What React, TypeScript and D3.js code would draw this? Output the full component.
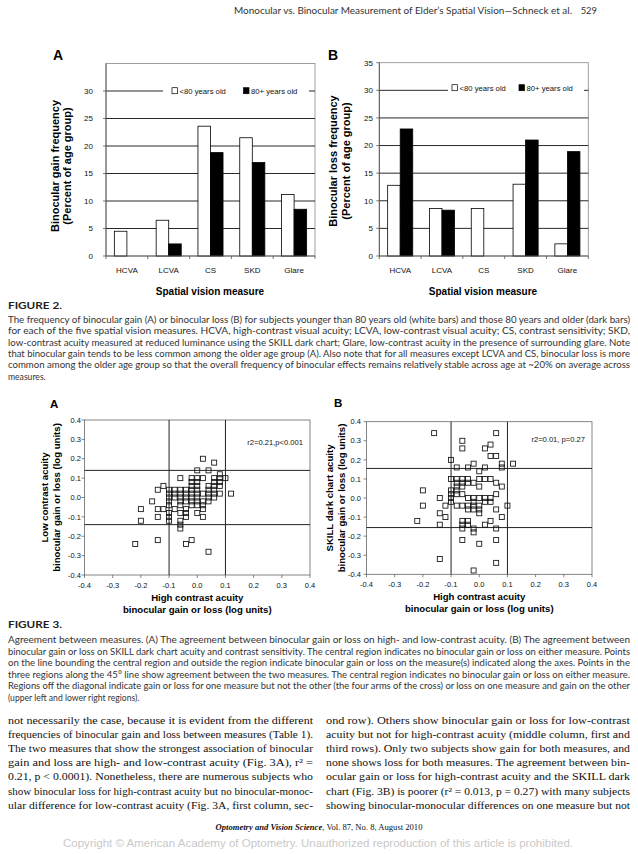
import React from "react";
import * as d3 from "d3";

// ---------- data ----------
const categories = ["HCVA", "LCVA", "CS", "SKD", "Glare"];
const ageGroups = ["<80 years old", "80+ years old"];
const gainUnder80 = [4.5, 6.5, 23.6, 21.5, 11.2];
const gainOver80 = [0, 2.2, 18.8, 17.0, 8.5];
const lossUnder80 = [12.8, 8.6, 8.6, 13.0, 2.2];
const lossOver80 = [23.0, 8.3, 0, 21.0, 18.9];
const gainTicks = [0, 5, 10, 15, 20, 25, 30];
const lossTicks = [0, 5, 10, 15, 20, 25, 30, 35];

const logTicks = [-0.4, -0.3, -0.2, -0.1, 0, 0.1, 0.2, 0.3, 0.4];
const crossAX = [-0.1, 0.1];
const crossAY = [-0.14, 0.14];
const crossBX = [-0.1, 0.1];
const crossBY = [-0.155, 0.155];

const hcVsLc: [number, number][] = [
  [0.02, 0.2], [0.06, 0.18], [0.0, 0.14], [0.04, 0.14], [0.08, 0.12],
  [-0.06, 0.1], [-0.02, 0.1], [0.0, 0.1], [0.02, 0.1], [0.06, 0.1], [0.08, 0.1], [0.1, 0.1],
  [-0.02, 0.08], [0.0, 0.08], [0.06, 0.08], [0.08, 0.08],
  [-0.12, 0.06], [-0.02, 0.06], [0.0, 0.06], [0.04, 0.06], [0.06, 0.06], [0.08, 0.06],
  [-0.14, 0.04], [-0.1, 0.04], [-0.08, 0.04], [-0.06, 0.04], [-0.04, 0.04], [-0.02, 0.04], [0.0, 0.04], [0.04, 0.04], [0.06, 0.04],
  [-0.1, 0.02], [-0.08, 0.02], [-0.06, 0.02], [-0.04, 0.02], [-0.02, 0.02], [0.0, 0.02], [0.02, 0.02], [0.04, 0.02], [0.06, 0.02], [0.08, 0.02], [0.12, 0.02],
  [-0.1, 0.0], [-0.08, 0.0], [-0.06, 0.0], [-0.04, 0.0], [-0.02, 0.0], [0.0, 0.0], [0.04, 0.0], [0.06, 0.0],
  [-0.16, -0.02], [-0.1, -0.02], [-0.06, -0.02], [-0.04, -0.02], [-0.02, -0.02], [0.0, -0.02], [0.02, -0.02], [0.04, -0.02],
  [-0.1, -0.04], [-0.06, -0.04], [-0.02, -0.04], [0.0, -0.04], [0.02, -0.04],
  [-0.2, -0.06], [-0.14, -0.06], [-0.12, -0.06], [-0.08, -0.06], [-0.04, -0.06], [0.02, -0.06],
  [-0.1, -0.08], [-0.06, -0.08], [-0.04, -0.08], [0.0, -0.08],
  [-0.14, -0.1], [-0.1, -0.1], [-0.04, -0.1], [0.02, -0.1],
  [-0.2, -0.12], [-0.1, -0.12], [-0.06, -0.12],
  [-0.06, -0.14], [-0.06, -0.16],
  [-0.14, -0.22], [-0.02, -0.22], [-0.22, -0.24], [-0.04, -0.24], [0.04, -0.28],
];

const hcVsSkd: [number, number][] = [
  [-0.16, 0.34], [0.06, 0.34], [-0.06, 0.3], [-0.06, 0.26], [0.04, 0.28], [0.02, 0.26],
  [0.04, 0.22], [0.06, 0.22], [-0.1, 0.2], [-0.02, 0.18], [0.08, 0.18], [0.12, 0.18],
  [-0.08, 0.16], [-0.04, 0.16], [0.02, 0.16], [0.08, 0.16], [0.0, 0.14],
  [-0.1, 0.1], [-0.08, 0.1], [-0.06, 0.1], [-0.04, 0.1], [0.0, 0.1], [0.02, 0.1], [0.04, 0.1],
  [-0.08, 0.08], [-0.06, 0.08], [-0.04, 0.08], [-0.02, 0.08], [0.06, 0.08],
  [-0.08, 0.06], [-0.06, 0.06], [0.0, 0.06], [0.08, 0.06],
  [-0.2, 0.04], [-0.1, 0.04], [-0.08, 0.04],
  [-0.1, 0.02], [-0.08, 0.02], [-0.06, 0.02], [0.06, 0.02],
  [-0.14, 0.0], [-0.1, 0.0], [-0.04, 0.0], [-0.02, 0.0], [0.0, 0.0], [0.02, 0.0], [0.04, 0.0],
  [-0.1, -0.02], [-0.02, -0.02], [0.02, -0.02], [0.04, -0.02],
  [-0.2, -0.04], [-0.12, -0.04], [-0.08, -0.04], [-0.06, -0.04], [-0.04, -0.04], [-0.02, -0.04], [0.0, -0.04], [0.1, -0.04],
  [-0.04, -0.06], [-0.02, -0.06], [0.0, -0.06], [0.06, -0.06],
  [-0.14, -0.08], [0.0, -0.08],
  [-0.12, -0.1], [0.08, -0.1],
  [-0.22, -0.12], [-0.06, -0.12], [-0.04, -0.12], [0.04, -0.12],
  [-0.14, -0.14], [-0.06, -0.14], [-0.04, -0.14], [0.02, -0.14],
  [-0.06, -0.16], [-0.02, -0.16], [0.06, -0.16],
  [-0.02, -0.18], [-0.06, -0.22], [0.06, -0.22], [0.0, -0.24],
  [-0.14, -0.32], [0.06, -0.34], [-0.02, -0.38],
];

// ---------- text ----------
const headerText = "Monocular vs. Binocular Measurement of Elder’s Spatial Vision—Schneck et al.";
const pageNumber = "529";
const fig2Caption = [
  "The frequency of binocular gain (A) or binocular loss (B) for subjects younger than 80 years old (white bars) and those 80 years and older (dark bars)",
  "for each of the five spatial vision measures. HCVA, high-contrast visual acuity; LCVA, low-contrast visual acuity; CS, contrast sensitivity; SKD,",
  "low-contrast acuity measured at reduced luminance using the SKILL dark chart; Glare, low-contrast acuity in the presence of surrounding glare. Note",
  "that binocular gain tends to be less common among the older age group (A). Also note that for all measures except LCVA and CS, binocular loss is more",
  "common among the older age group so that the overall frequency of binocular effects remains relatively stable across age at ~20% on average across",
  "measures.",
];
const fig3Caption = [
  "Agreement between measures. (A) The agreement between binocular gain or loss on high- and low-contrast acuity. (B) The agreement between",
  "binocular gain or loss on SKILL dark chart acuity and contrast sensitivity. The central region indicates no binocular gain or loss on either measure. Points",
  "on the line bounding the central region and outside the region indicate binocular gain or loss on the measure(s) indicated along the axes. Points in the",
  "three regions along the 45° line show agreement between the two measures. The central region indicates no binocular gain or loss on either measure.",
  "Regions off the diagonal indicate gain or loss for one measure but not the other (the four arms of the cross) or loss on one measure and gain on the other",
  "(upper left and lower right regions).",
];
const bodyLeft = [
  "not necessarily the case, because it is evident from the different",
  "frequencies of binocular gain and loss between measures (Table 1).",
  "The two measures that show the strongest association of binocular",
  "gain and loss are high- and low-contrast acuity (Fig. 3A), r² =",
  "0.21, p < 0.0001). Nonetheless, there are numerous subjects who",
  "show binocular loss for high-contrast acuity but no binocular-monoc-",
  "ular difference for low-contrast acuity (Fig. 3A, first column, sec-",
];
const bodyRight = [
  "ond row). Others show binocular gain or loss for low-contrast",
  "acuity but not for high-contrast acuity (middle column, first and",
  "third rows). Only two subjects show gain for both measures, and",
  "none shows loss for both measures. The agreement between bin-",
  "ocular gain or loss for high-contrast acuity and the SKILL dark",
  "chart (Fig. 3B) is poorer (r² = 0.013, p = 0.27) with many subjects",
  "showing binocular-monocular differences on one measure but not",
];

const SANS = "'Liberation Sans', Arial, sans-serif";
const CAP = "Lato, 'Open Sans', sans-serif";
const SERIF = "'Liberation Serif', 'Times New Roman', serif";

type BarProps = {
  left: number; right: number; top: number; bottom: number;
  under: number[]; over: number[]; ticks: number[];
  labelRight: number; titleLines: string[]; titleXs: number[]; titleCY: number;
  letter: string; letterX: number; legendBox: [number, number, number, number];
  legendY: number; legendXs: [number, number]; xTitleX: number;
};

function BarChart(p: BarProps) {
  const x = d3.scaleBand<string>().domain(categories).range([p.left, p.right]).paddingInner(0.4).paddingOuter(0.2);
  const inner = d3.scaleBand<string>().domain(ageGroups).range([0, x.bandwidth()]);
  const y = d3.scaleLinear().domain([0, 35]).range([p.bottom, p.top]);
  const bounds = d3.range(categories.length + 1).map((i) => p.left + i * x.step());
  const series = [p.under, p.over];
  return (
    <g>
      <rect x={p.left} y={p.top} width={p.right - p.left} height={p.bottom - p.top} fill="none" stroke="#888" strokeWidth={0.8} />
      {lossTicks.filter((t) => t > 0 && t < 35).map((t) => (
        <line key={t} x1={p.left} x2={p.right} y1={y(t)} y2={y(t)} stroke="#111" strokeWidth={0.9} />
      ))}
      <rect x={p.legendBox[0]} y={p.legendBox[1]} width={p.legendBox[2]} height={p.legendBox[3]} fill="#fff" />
      {ageGroups.map((g, gi) => (
        <g key={g}>
          <rect x={p.legendXs[gi]} y={p.legendY - 3} width={5.5} height={6} fill={gi === 0 ? "#fff" : "#000"} stroke="#000" strokeWidth={0.7} />
          <text x={p.legendXs[gi] + 7.5} y={p.legendY + 2.8} fontFamily={SANS} fontSize={7.7} fill="#111">{g}</text>
        </g>
      ))}
      {series.map((vals, si) =>
        categories.map((c, ci) =>
          vals[ci] > 0 ? (
            <rect key={si + c} x={(x(c) as number) + (inner(ageGroups[si]) as number)} y={y(vals[ci])}
              width={inner.bandwidth()} height={p.bottom - y(vals[ci])}
              fill={si === 0 ? "#fff" : "#000"} stroke="#000" strokeWidth={0.8} />
          ) : null
        )
      )}
      <line x1={p.left} x2={p.right} y1={p.bottom} y2={p.bottom} stroke="#555" strokeWidth={0.9} />
      <line x1={p.left} x2={p.left} y1={p.top} y2={p.bottom} stroke="#555" strokeWidth={0.9} />
      {bounds.map((b, i) => (
        <line key={i} x1={b} x2={b} y1={p.bottom} y2={p.bottom + 3} stroke="#555" strokeWidth={0.8} />
      ))}
      {p.ticks.map((t) => (
        <g key={t}>
          <line x1={p.left - 3} x2={p.left} y1={y(t)} y2={y(t)} stroke="#555" strokeWidth={0.8} />
          <text x={p.labelRight} y={y(t) + 2.8} textAnchor="end" fontFamily={SANS} fontSize={8} fill="#111">{t}</text>
        </g>
      ))}
      {categories.map((c) => (
        <text key={c} x={(x(c) as number) + x.bandwidth() / 2} y={p.bottom + 17} textAnchor="middle" fontFamily={SANS} fontSize={8} fill="#111">{c}</text>
      ))}
      <text x={p.xTitleX} y={p.bottom + 38.5} textAnchor="middle" fontFamily={SANS} fontWeight="bold" fontSize={10} fill="#000">Spatial vision measure</text>
      {p.titleLines.map((t, i) => (
        <text key={i} transform={`translate(${p.titleXs[i]},${p.titleCY}) rotate(-90)`} textAnchor="middle" dy="0.35em"
          fontFamily={SANS} fontWeight="bold" fontSize={11} fill="#000">{t}</text>
      ))}
      <text x={p.letterX} y={60} fontFamily={SANS} fontWeight="bold" fontSize={14} fill="#000">{p.letter}</text>
    </g>
  );
}

type ScatterProps = {
  left: number; right: number; top: number; bottom: number;
  points: [number, number][]; crossX: number[]; crossY: number[];
  labelRight: number; titleLines: string[]; titleXs: number[];
  stat: string; statX: number; statY: number; letter: string; letterX: number; letterY: number;
};

function Scatter(p: ScatterProps) {
  const x = d3.scaleLinear().domain([-0.4, 0.4]).range([p.left, p.right]);
  const y = d3.scaleLinear().domain([-0.4, 0.4]).range([p.bottom, p.top]);
  const cx = (p.left + p.right) / 2;
  const cy = (p.top + p.bottom) / 2;
  const s = 5;
  return (
    <g>
      <rect x={p.left} y={p.top} width={p.right - p.left} height={p.bottom - p.top} fill="none" stroke="#666" strokeWidth={0.8} />
      {p.crossX.map((v) => (
        <line key={"cx" + v} x1={x(v)} x2={x(v)} y1={p.top} y2={p.bottom} stroke="#222" strokeWidth={1} />
      ))}
      {p.crossY.map((v) => (
        <line key={"cy" + v} x1={p.left} x2={p.right} y1={y(v)} y2={y(v)} stroke="#222" strokeWidth={1} />
      ))}
      {logTicks.map((t) => (
        <g key={t}>
          <line x1={x(t)} x2={x(t)} y1={p.bottom} y2={p.bottom + 3} stroke="#555" strokeWidth={0.7} />
          <line x1={p.left - 3} x2={p.left} y1={y(t)} y2={y(t)} stroke="#555" strokeWidth={0.7} />
          <text x={x(t)} y={p.bottom + 13} textAnchor="middle" fontFamily={SANS} fontSize={7.5} fill="#111">{t.toFixed(1)}</text>
          <text x={p.labelRight} y={y(t) + 2.7} textAnchor="end" fontFamily={SANS} fontSize={7.5} fill="#111">{t.toFixed(1)}</text>
        </g>
      ))}
      {p.points.map((d, i) => (
        <rect key={i} x={x(d[0]) - s / 2} y={y(d[1]) - s / 2} width={s} height={s} fill="none" stroke="#111" strokeWidth={0.85} />
      ))}
      <text x={p.statX} y={p.statY} textAnchor="end" fontFamily={SANS} fontSize={7.6} fill="#111">{p.stat}</text>
      <text x={cx} y={p.bottom + 25.5} textAnchor="middle" fontFamily={SANS} fontWeight="bold" fontSize={9.6} fill="#000">High contrast acuity</text>
      <text x={cx} y={p.bottom + 37.5} textAnchor="middle" fontFamily={SANS} fontWeight="bold" fontSize={9.6} fill="#000">binocular gain or loss (log units)</text>
      {p.titleLines.map((t, i) => (
        <text key={i} transform={`translate(${p.titleXs[i]},${cy}) rotate(-90)`} textAnchor="middle" dy="0.35em"
          fontFamily={SANS} fontWeight="bold" fontSize={9.6} fill="#000">{t}</text>
      ))}
      <text x={p.letterX} y={p.letterY} fontFamily={SANS} fontWeight="bold" fontSize={11.5} fill="#000">{p.letter}</text>
    </g>
  );
}

function Paragraph({ lines, x, y0, dy, width, size, family, fill, justifyLast }: {
  lines: string[]; x: number; y0: number; dy: number; width: number; size: number; family: string; fill: string; justifyLast?: boolean;
}) {
  return (
    <g>
      {lines.map((l, i) => {
        const justify = i < lines.length - 1 || justifyLast;
        return (
          <text key={i} x={x} y={y0 + i * dy} fontFamily={family} fontSize={size} fill={fill}
            {...(justify ? { textLength: width, lengthAdjust: "spacingAndGlyphs" } : {})}>{l}</text>
        );
      })}
    </g>
  );
}

export default function App() {
  return (
    <svg width={638} height={854} viewBox="0 0 638 854" style={{ position: "absolute", left: 0, top: 0, display: "block", background: "#fff" }}>
      <rect width={638} height={854} fill="#fff" />
      {/* running header */}
      <text x={234} y={13.5} fontFamily={CAP} fontSize={9.4} fill="#333" textLength={338} lengthAdjust="spacingAndGlyphs">{headerText}</text>
      <text x={597} y={13.5} textAnchor="end" fontFamily={CAP} fontSize={9.4} fill="#333">{pageNumber}</text>

      {/* Figure 2 */}
      <BarChart left={106} right={315} top={63.5} bottom={256} under={gainUnder80} over={gainOver80} ticks={gainTicks}
        labelRight={93} titleLines={["Binocular gain frequency", "(Percent of age group)"]} titleXs={[55, 67]} titleCY={166}
        letter="A" letterX={53} legendBox={[163, 84, 146, 13]} legendY={90.7} legendXs={[172, 243.5]} xTitleX={210} />
      <BarChart left={379.3} right={588.3} top={62.7} bottom={256} under={lossUnder80} over={lossOver80} ticks={lossTicks}
        labelRight={373} titleLines={["Binocular loss frequency", "(Percent of age group)"]} titleXs={[333, 346.5]} titleCY={161}
        letter="B" letterX={328} legendBox={[448, 81, 136, 13.5]} legendY={87.7} legendXs={[452, 519]} xTitleX={483} />

      <text x={8} y={308.5} fontFamily={CAP} fontWeight="bold" fontSize={9} fill="#222" textLength={54} lengthAdjust="spacingAndGlyphs">FIGURE 2.</text>
      <Paragraph lines={fig2Caption} x={8} y0={323} dy={11.3} width={622} size={8.6} family={CAP} fill="#333" />

      {/* Figure 3 */}
      <Scatter left={84.5} right={310} top={420} bottom={575} points={hcVsLc} crossX={crossAX} crossY={crossAY}
        labelRight={81} titleLines={["Low contrast acuity", "binocular gain or loss (log units)"]} titleXs={[45, 57]}
        stat="r2=0.21,p<0.001" statX={303} statY={445} letter="A" letterX={50} letterY={408} />
      <Scatter left={366.5} right={592} top={421.7} bottom={574.3} points={hcVsSkd} crossX={crossBX} crossY={crossBY}
        labelRight={361} titleLines={["SKILL dark chart acuity", "binocular gain or loss (log units)"]} titleXs={[330, 341.5]}
        stat="r2=0.01, p=0.27" statX={585} statY={442} letter="B" letterX={334} letterY={407} />

      <text x={8} y={627.5} fontFamily={CAP} fontWeight="bold" fontSize={9} fill="#222" textLength={54} lengthAdjust="spacingAndGlyphs">FIGURE 3.</text>
      <Paragraph lines={fig3Caption} x={8} y0={643} dy={11.6} width={622} size={8.6} family={CAP} fill="#333" />

      {/* body text */}
      <Paragraph lines={bodyLeft} x={8} y0={723.5} dy={14.2} width={305} size={10.6} family={SERIF} fill="#111" justifyLast />
      <Paragraph lines={bodyRight} x={326} y0={723.5} dy={14.2} width={304} size={10.6} family={SERIF} fill="#111" justifyLast />

      {/* footer */}
      <text x={319} y={830} textAnchor="middle" fontFamily={SERIF} fontSize={8.6} fill="#111">
        <tspan fontWeight="bold" fontStyle="italic">Optometry and Vision Science</tspan>
        <tspan>, Vol. 87, No. 8, August 2010</tspan>
      </text>
      <text x={63} y={847} fontFamily={SANS} fontSize={10.5} fill="#c9c9c9" textLength={510} lengthAdjust="spacingAndGlyphs">
        Copyright © American Academy of Optometry. Unauthorized reproduction of this article is prohibited.
      </text>
    </svg>
  );
}
